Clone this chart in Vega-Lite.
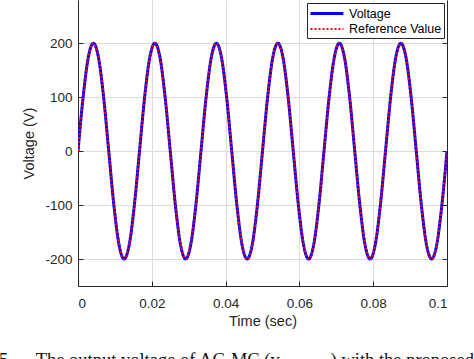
{
  "$schema": "https://vega.github.io/schema/vega-lite/v6.json",
  "width": 369,
  "height": 286,
  "autosize": {"type": "none"},
  "padding": {"left": 78, "top": 0, "right": 27, "bottom": 73},
  "background": "white",
  "title": {
    "text": "5\u00a0\u00a0\u00a0\u00a0\u00a0 The output voltage of AC-MC (v\u00a0\u00a0\u00a0\u00a0\u00a0\u00a0\u00a0\u00a0\u00a0\u00a0\u00a0) with the proposed",
    "orient": "bottom",
    "anchor": "start",
    "frame": "group",
    "dx": -79,
    "offset": 38,
    "baseline": "alphabetic",
    "font": "Liberation Serif",
    "fontSize": 18.5,
    "fontWeight": "normal",
    "color": "#111111"
  },
  "data": {
    "values": [
      {"t": 0, "Voltage": 0, "Reference Value": 0},
      {"t": 0.001389, "Voltage": 100, "Reference Value": 100},
      {"t": 0.002778, "Voltage": 173.2, "Reference Value": 173.2},
      {"t": 0.004167, "Voltage": 200, "Reference Value": 200},
      {"t": 0.005556, "Voltage": 173.2, "Reference Value": 173.2},
      {"t": 0.006944, "Voltage": 100, "Reference Value": 100},
      {"t": 0.008333, "Voltage": 0, "Reference Value": 0},
      {"t": 0.009722, "Voltage": -100, "Reference Value": -100},
      {"t": 0.011111, "Voltage": -173.2, "Reference Value": -173.2},
      {"t": 0.0125, "Voltage": -200, "Reference Value": -200},
      {"t": 0.013889, "Voltage": -173.2, "Reference Value": -173.2},
      {"t": 0.015278, "Voltage": -100, "Reference Value": -100},
      {"t": 0.016667, "Voltage": 0, "Reference Value": 0},
      {"t": 0.018056, "Voltage": 100, "Reference Value": 100},
      {"t": 0.019444, "Voltage": 173.2, "Reference Value": 173.2},
      {"t": 0.020833, "Voltage": 200, "Reference Value": 200},
      {"t": 0.022222, "Voltage": 173.2, "Reference Value": 173.2},
      {"t": 0.023611, "Voltage": 100, "Reference Value": 100},
      {"t": 0.025, "Voltage": 0, "Reference Value": 0},
      {"t": 0.026389, "Voltage": -100, "Reference Value": -100},
      {"t": 0.027778, "Voltage": -173.2, "Reference Value": -173.2},
      {"t": 0.029167, "Voltage": -200, "Reference Value": -200},
      {"t": 0.030556, "Voltage": -173.2, "Reference Value": -173.2},
      {"t": 0.031944, "Voltage": -100, "Reference Value": -100},
      {"t": 0.033333, "Voltage": 0, "Reference Value": 0},
      {"t": 0.034722, "Voltage": 100, "Reference Value": 100},
      {"t": 0.036111, "Voltage": 173.2, "Reference Value": 173.2},
      {"t": 0.0375, "Voltage": 200, "Reference Value": 200},
      {"t": 0.038889, "Voltage": 173.2, "Reference Value": 173.2},
      {"t": 0.040278, "Voltage": 100, "Reference Value": 100},
      {"t": 0.041667, "Voltage": 0, "Reference Value": 0},
      {"t": 0.043056, "Voltage": -100, "Reference Value": -100},
      {"t": 0.044444, "Voltage": -173.2, "Reference Value": -173.2},
      {"t": 0.045833, "Voltage": -200, "Reference Value": -200},
      {"t": 0.047222, "Voltage": -173.2, "Reference Value": -173.2},
      {"t": 0.048611, "Voltage": -100, "Reference Value": -100},
      {"t": 0.05, "Voltage": 0, "Reference Value": 0},
      {"t": 0.051389, "Voltage": 100, "Reference Value": 100},
      {"t": 0.052778, "Voltage": 173.2, "Reference Value": 173.2},
      {"t": 0.054167, "Voltage": 200, "Reference Value": 200},
      {"t": 0.055556, "Voltage": 173.2, "Reference Value": 173.2},
      {"t": 0.056944, "Voltage": 100, "Reference Value": 100},
      {"t": 0.058333, "Voltage": 0, "Reference Value": 0},
      {"t": 0.059722, "Voltage": -100, "Reference Value": -100},
      {"t": 0.061111, "Voltage": -173.2, "Reference Value": -173.2},
      {"t": 0.0625, "Voltage": -200, "Reference Value": -200},
      {"t": 0.063889, "Voltage": -173.2, "Reference Value": -173.2},
      {"t": 0.065278, "Voltage": -100, "Reference Value": -100},
      {"t": 0.066667, "Voltage": 0, "Reference Value": 0},
      {"t": 0.068056, "Voltage": 100, "Reference Value": 100},
      {"t": 0.069444, "Voltage": 173.2, "Reference Value": 173.2},
      {"t": 0.070833, "Voltage": 200, "Reference Value": 200},
      {"t": 0.072222, "Voltage": 173.2, "Reference Value": 173.2},
      {"t": 0.073611, "Voltage": 100, "Reference Value": 100},
      {"t": 0.075, "Voltage": 0, "Reference Value": 0},
      {"t": 0.076389, "Voltage": -100, "Reference Value": -100},
      {"t": 0.077778, "Voltage": -173.2, "Reference Value": -173.2},
      {"t": 0.079167, "Voltage": -200, "Reference Value": -200},
      {"t": 0.080556, "Voltage": -173.2, "Reference Value": -173.2},
      {"t": 0.081944, "Voltage": -100, "Reference Value": -100},
      {"t": 0.083333, "Voltage": 0, "Reference Value": 0},
      {"t": 0.084722, "Voltage": 100, "Reference Value": 100},
      {"t": 0.086111, "Voltage": 173.2, "Reference Value": 173.2},
      {"t": 0.0875, "Voltage": 200, "Reference Value": 200},
      {"t": 0.088889, "Voltage": 173.2, "Reference Value": 173.2},
      {"t": 0.090278, "Voltage": 100, "Reference Value": 100},
      {"t": 0.091667, "Voltage": 0, "Reference Value": 0},
      {"t": 0.093056, "Voltage": -100, "Reference Value": -100},
      {"t": 0.094444, "Voltage": -173.2, "Reference Value": -173.2},
      {"t": 0.095833, "Voltage": -200, "Reference Value": -200},
      {"t": 0.097222, "Voltage": -173.2, "Reference Value": -173.2},
      {"t": 0.098611, "Voltage": -100, "Reference Value": -100},
      {"t": 0.1, "Voltage": 0, "Reference Value": 0}
    ]
  },
  "transform": [
    {"fold": ["Voltage", "Reference Value"], "as": ["series", "value"]}
  ],
  "encoding": {
    "x": {
      "field": "t",
      "type": "quantitative",
      "scale": {"domain": [0, 0.1], "nice": false, "zero": false},
      "axis": {
        "title": "Time (sec)",
        "values": [0, 0.02, 0.04, 0.06, 0.08, 0.1],
        "labelExpr": "'' + datum.value",
        "grid": true,
        "tickSize": -5,
        "labelPadding": 15,
        "titlePadding": 5
      }
    },
    "y": {
      "field": "value",
      "type": "quantitative",
      "scale": {"domain": [-250, 280], "nice": false, "zero": false}
    },
    "color": {
      "field": "series",
      "type": "nominal",
      "scale": {"domain": ["Voltage", "Reference Value"], "range": ["#0000ff", "#ff0000"]},
      "legend": {
        "title": null,
        "symbolType": "M-1,0H3.7",
        "symbolSize": 196,
        "labelOffset": 23
      }
    },
    "strokeDash": {
      "field": "series",
      "type": "nominal",
      "scale": {"domain": ["Voltage", "Reference Value"], "range": [[1, 0], [2, 2]]},
      "legend": {"title": null, "symbolType": "M-1,0H3.7", "symbolSize": 196, "labelOffset": 23}
    },
    "strokeWidth": {
      "field": "series",
      "type": "nominal",
      "scale": {"domain": ["Voltage", "Reference Value"], "range": [3, 2]},
      "legend": {"title": null, "symbolType": "M-1,0H3.7", "symbolSize": 196, "labelOffset": 23}
    }
  },
  "layer": [
    {
      "transform": [{"filter": "datum.series == 'Voltage'"}],
      "mark": {"type": "line", "interpolate": "monotone", "clip": true},
      "encoding": {
        "y": {
          "field": "value",
          "type": "quantitative",
          "scale": {"domain": [-250, 280], "nice": false, "zero": false},
          "axis": {
            "title": "Voltage (V)",
            "orient": "left",
            "values": [-200, -100, 0, 100, 200],
            "labelExpr": "'' + datum.value",
            "grid": true,
            "tickSize": -5,
            "labelPadding": 11,
            "titlePadding": 8
          }
        }
      }
    },
    {
      "transform": [{"filter": "datum.series == 'Reference Value'"}],
      "mark": {"type": "line", "interpolate": "monotone", "clip": true},
      "encoding": {
        "y": {
          "field": "value",
          "type": "quantitative",
          "scale": {"domain": [-250, 280], "nice": false, "zero": false},
          "axis": {
            "title": null,
            "orient": "right",
            "values": [-200, -100, 0, 100, 200],
            "labels": false,
            "grid": false,
            "tickSize": -5
          }
        }
      }
    }
  ],
  "resolve": {"axis": {"y": "independent"}},
  "config": {
    "view": {"stroke": null},
    "font": "Liberation Sans",
    "axis": {
      "domainColor": "#262626",
      "domainWidth": 1,
      "tickColor": "#262626",
      "labelColor": "#262626",
      "titleColor": "#262626",
      "labelFont": "Liberation Sans",
      "titleFont": "Liberation Sans",
      "labelFontSize": 13.5,
      "titleFontSize": 14.5,
      "titleFontWeight": "normal",
      "gridColor": "#dcdcdc",
      "gridWidth": 1
    },
    "legend": {
      "orient": "top-right",
      "offset": 3,
      "fillColor": "white",
      "strokeColor": "#262626",
      "padding": 2,
      "cornerRadius": 0,
      "labelFont": "Liberation Sans",
      "labelFontSize": 12.5,
      "labelColor": "#000000",
      "rowPadding": 1
    }
  }
}
